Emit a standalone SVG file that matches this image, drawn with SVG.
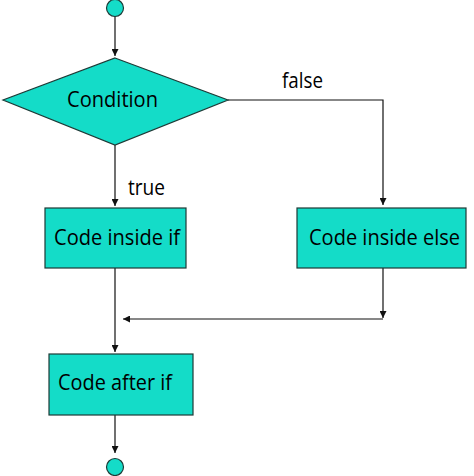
<svg xmlns="http://www.w3.org/2000/svg" width="474" height="476" viewBox="0 0 474 476">
<style>
.n{fill:#14dcc8;stroke:#1d3a36;stroke-width:1.2}
.t{font-family:"Open Sans","Noto Sans",sans-serif;font-size:22px;fill:#000}
.c{fill:none;stroke:#111;stroke-width:1.2}
</style>
<defs>
<marker id="a" viewBox="0 0 10 10" refX="10" refY="5" markerWidth="7" markerHeight="7" markerUnits="userSpaceOnUse" orient="auto"><path d="M0,0L10,5L0,10z" fill="#111"/></marker>
</defs>
<rect width="474" height="476" fill="#fff"/>
<g id="connectors">
<line class="c" x1="115" y1="16" x2="115" y2="56" marker-end="url(#a)"/>
<polyline class="c" points="228,100 383,100 383,205" marker-end="url(#a)"/>
<line class="c" x1="115" y1="145" x2="115" y2="206" marker-end="url(#a)"/>
<line class="c" x1="115" y1="268" x2="115" y2="352" marker-end="url(#a)"/>
<line class="c" x1="383" y1="268" x2="383" y2="318" marker-end="url(#a)"/>
<line class="c" x1="383" y1="319" x2="123" y2="319" marker-end="url(#a)"/>
<line class="c" x1="115" y1="415" x2="115" y2="453" marker-end="url(#a)"/>
<line class="c" x1="115" y1="475" x2="115" y2="476"/>
<text class="t" x="282" y="88" textLength="41" lengthAdjust="spacingAndGlyphs">false</text>
<text class="t" x="128" y="195" textLength="37" lengthAdjust="spacingAndGlyphs">true</text>
</g>
<g id="start"><circle class="n" cx="115" cy="8" r="8.5"/></g>
<g id="condition"><polygon class="n" points="115,58 228,100 115,145 3,100"/><text class="t" x="67" y="107" textLength="91" lengthAdjust="spacingAndGlyphs">Condition</text></g>
<g id="if"><rect class="n" x="45" y="208" width="141" height="60"/><text class="t" x="54" y="245" textLength="126" lengthAdjust="spacingAndGlyphs">Code inside if</text></g>
<g id="else"><rect class="n" x="297" y="208" width="169" height="60"/><text class="t" x="309" y="245" textLength="151" lengthAdjust="spacingAndGlyphs">Code inside else</text></g>
<g id="after"><rect class="n" x="49" y="354" width="144" height="61"/><text class="t" x="58" y="390" textLength="114" lengthAdjust="spacingAndGlyphs">Code after if</text></g>
<g id="end"><circle class="n" cx="115" cy="467" r="8.5"/></g>
</svg>
